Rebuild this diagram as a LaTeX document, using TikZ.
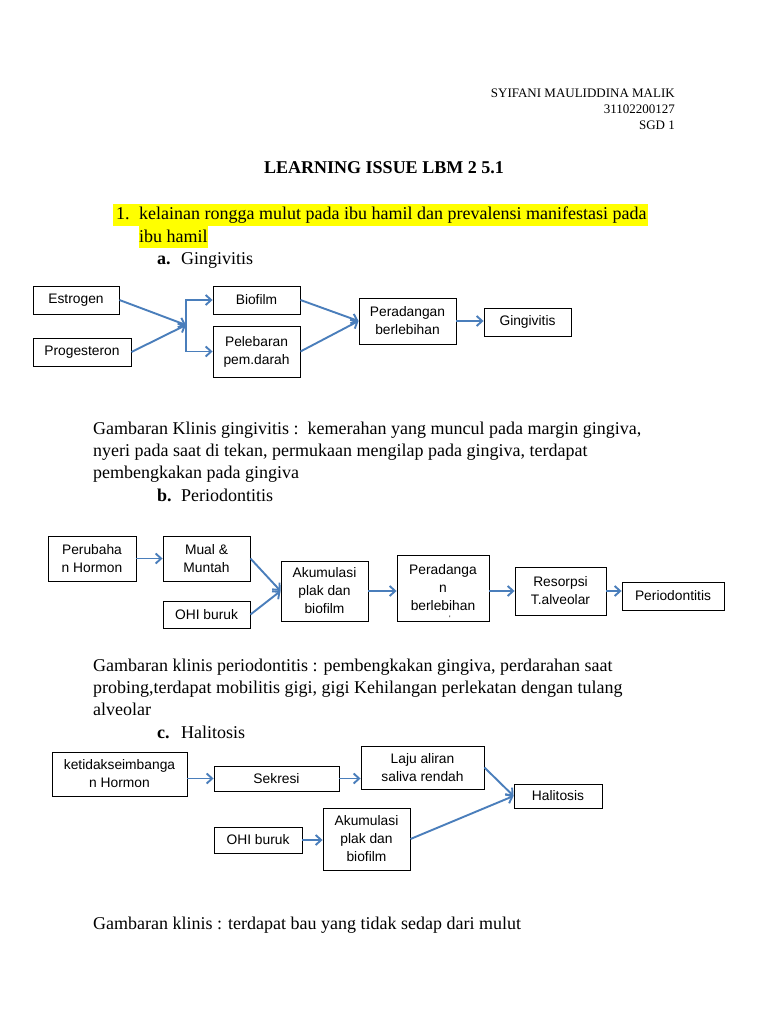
\documentclass[tikz,border=0pt]{standalone}
\usepackage{fontspec}
\setmainfont{Liberation Serif}
\newfontfamily\boxfont{Liberation Sans}
\usetikzlibrary{arrows.meta}
\definecolor{arr}{HTML}{4A7EBB}
\definecolor{hl}{HTML}{FFFF00}
\begin{document}
\begin{tikzpicture}[x=1pt,y=-1pt,
 box/.style={draw=black, line width=0.9pt, font=\boxfont\fontsize{13.8}{18}\selectfont, align=center, inner sep=0pt},
 conn/.style={draw=arr, line width=1.9pt, -{Straight Barb[length=5.5pt,width=10pt]}},
 body/.style={anchor=base west, inner sep=0pt, font=\fontsize{18}{22}\selectfont},
 bodyb/.style={body, font=\fontsize{18}{22}\selectfont\bfseries},
 head/.style={anchor=base east, inner sep=0pt, font=\fontsize{13}{15}\selectfont},
]
\useasboundingbox[fill=white] (0,0) rectangle (768,1024);

% header
\node[head] (h1) at (675,98) {SYIFANI MAULIDDINA MALIK};
\node[head] (h2) at (675,114) {31102200127};
\node[head] (h3) at (675,130) {SGD 1};
\node[anchor=base, inner sep=0pt, font=\fontsize{18}{22}\selectfont\bfseries] (title) at (384,174) {LEARNING ISSUE LBM 2 5.1};

% highlighted question
\fill[hl] (113,204) rectangle (648,226);
\fill[hl] (139,226) rectangle (208,248);
\node[body] (q1n) at (116,220) {1.};
\node[body] (q1) at (139,220) {kelainan rongga mulut pada ibu hamil dan prevalensi manifestasi pada};
\node[body] (q1b) at (139,242) {ibu hamil};
\node[bodyb] (an) at (157,264) {a.};
\node[body] (a) at (181,264) {Gingivitis};

% gingivitis diagram
\node[box, minimum width=86, minimum height=28] (estrogen) at (76,300) {Estrogen};
\node[box, minimum width=98, minimum height=28] (progesteron) at (82,352) {Progesteron};
\node[box, minimum width=87, minimum height=28] (biofilm) at (256.5,300) {Biofilm};
\node[box, minimum width=87, minimum height=51] (pelebaran) at (256.5,351.5) {Pelebaran\\pem.darah};
\node[box, minimum width=97, minimum height=46] (peradangan) at (407.5,321) {Peradangan\\berlebihan};
\node[box, minimum width=87, minimum height=28] (gingivitis) at (527.5,322) {Gingivitis};
\coordinate (m) at (186,325);
\draw[conn] (estrogen.east) -- (m);
\draw[conn] (progesteron.east) -- (m);
\draw[conn] (m) |- (biofilm.west);
\draw[conn] (m) |- (pelebaran.west);
\draw[conn] (biofilm.east) -- (peradangan.west);
\draw[conn] (pelebaran.east) -- (peradangan.west);
\draw[conn] (peradangan.east) -- (gingivitis.west |- peradangan.east);

\node[body] (g1) at (93,434) {Gambaran Klinis gingivitis :\ \ kemerahan yang muncul pada margin gingiva,};
\node[body] (g2) at (93,456) {nyeri pada saat di tekan, permukaan mengilap pada gingiva, terdapat};
\node[body] (g3) at (93,478) {pembengkakan pada gingiva};
\node[bodyb] (bn) at (157,501) {b.};
\node[body] (b) at (181,501) {Periodontitis};

% periodontitis diagram
\node[box, minimum width=88, minimum height=45] (perubahan) at (92,558.5) {Perubaha\\n Hormon};
\node[box, minimum width=87, minimum height=45] (mual) at (206.5,558.5) {Mual \&\\Muntah};
\node[box, minimum width=87, minimum height=27] (ohia) at (206.5,614.5) {OHI buruk};
\node[box, minimum width=87, minimum height=60] (akuma) at (324.5,591) {Akumulasi\\plak dan\\biofilm};
\node[box, minimum width=92, minimum height=66] (peradb) at (443,588) {Peradanga\\n\\berlebihan};
\node[inner sep=0pt, font=\boxfont\fontsize{8}{8}\selectfont] (tick) at (450,619) {'};
\node[box, minimum width=91, minimum height=48] (resorpsi) at (560.5,591) {Resorpsi\\T.alveolar};
\node[box, minimum width=102, minimum height=28] (perio) at (673,596) {Periodontitis};
\draw[conn] (perubahan.east) -- (mual.west);
\draw[conn] (mual.east) -- (akuma.west);
\draw[conn] (ohia.east) -- (akuma.west);
\draw[conn] (akuma.east) -- (peradb.west |- akuma.east);
\draw[conn] (peradb.east |- resorpsi.west) -- (resorpsi.west);
\draw[conn] (resorpsi.east) -- (perio.west |- resorpsi.east);

\node[body] (p1) at (93,671) {Gambaran klinis periodontitis : pembengkakan gingiva, perdarahan saat};
\node[body] (p2) at (93,693) {probing,terdapat mobilitis gigi, gigi Kehilangan perlekatan dengan tulang};
\node[body] (p3) at (93,715) {alveolar};
\node[bodyb] (cn) at (157,738) {c.};
\node[body] (c) at (181,738) {Halitosis};

% halitosis diagram
\node[box, minimum width=135, minimum height=44] (ketidak) at (119.5,774) {ketidakseimbanga\\n Hormon};
\node[box, minimum width=125, minimum height=25] (sekresi) at (276.5,778.5) {Sekresi};
\node[box, minimum width=123, minimum height=43] (laju) at (422.5,767.5) {Laju aliran\\saliva rendah};
\node[box, minimum width=88, minimum height=24] (halitosis) at (558,796) {Halitosis};
\node[box, minimum width=88, minimum height=26] (ohib) at (258,840) {OHI buruk};
\node[box, minimum width=87, minimum height=62] (akumb) at (366.5,839) {Akumulasi\\plak dan\\biofilm};
\draw[conn] (ketidak.east |- sekresi.west) -- (sekresi.west);
\draw[conn] (sekresi.east) -- (laju.west |- sekresi.east);
\draw[conn] (laju.east) -- (halitosis.west);
\draw[conn] (akumb.east) -- (halitosis.west);
\draw[conn] (ohib.east) -- (akumb.west |- ohib.east);

\node[body] (hk) at (93,929) {Gambaran klinis : terdapat bau yang tidak sedap dari mulut};
\end{tikzpicture}
\end{document}
